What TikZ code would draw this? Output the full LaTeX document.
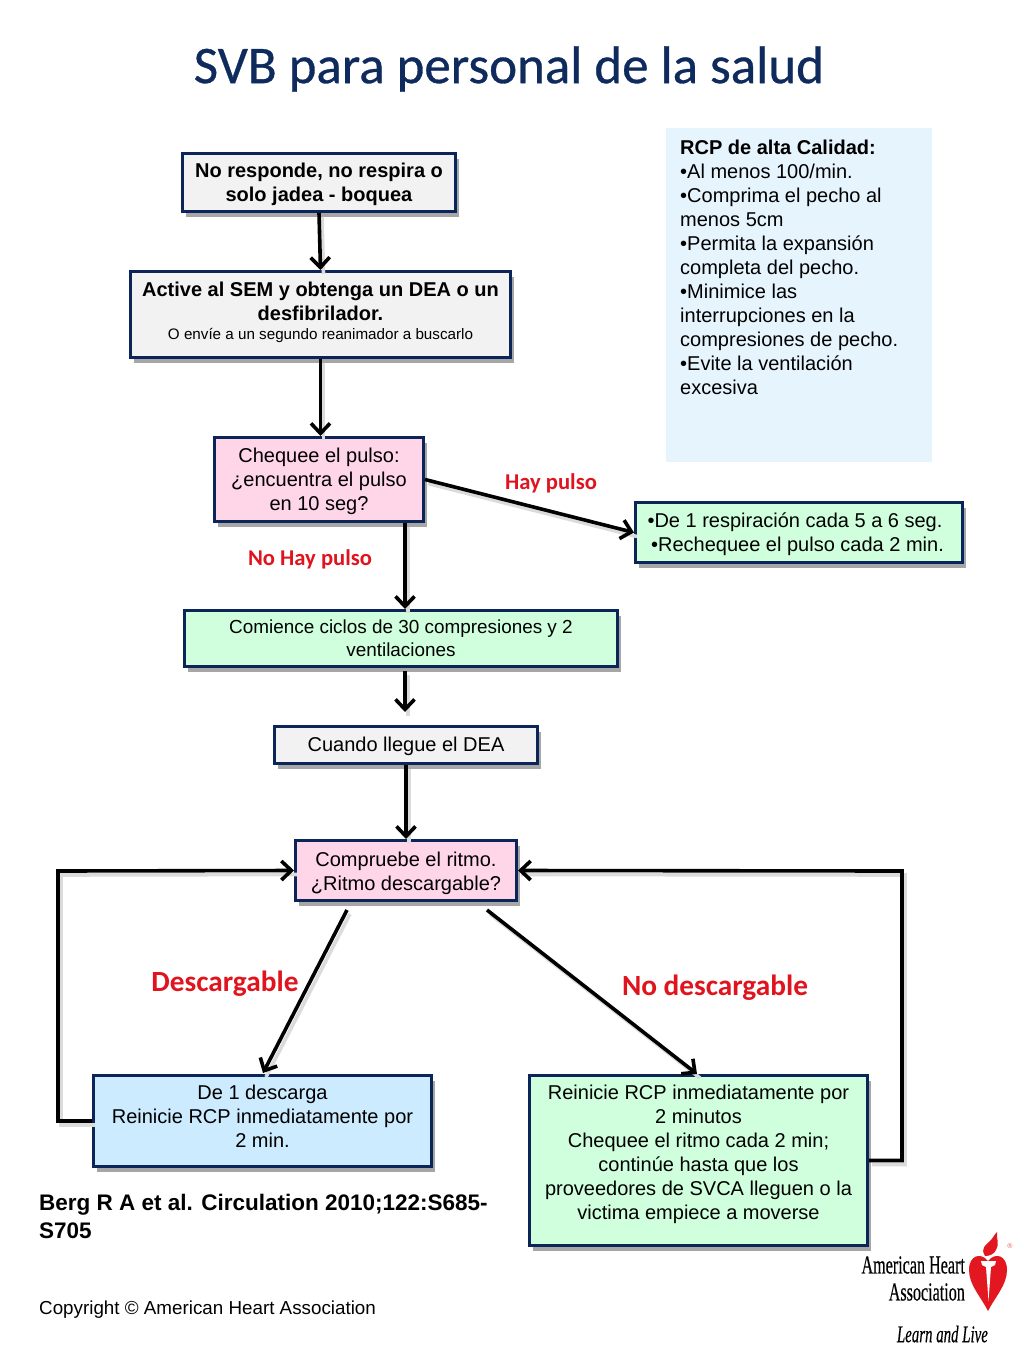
\documentclass[tikz,border=0pt]{standalone}
\usepackage{fontspec}
\setmainfont{Liberation Sans}
\newfontfamily\calibrifont{Carlito}
\newfontfamily\titlefont[FakeBold=0.6]{Carlito}
\newfontfamily\timesfont[FakeBold=0.5]{Liberation Serif}
\usetikzlibrary{arrows.meta,shadows}
\definecolor{navy}{HTML}{0B2559}
\definecolor{titlecol}{HTML}{0F2A5C}
\definecolor{graybox}{HTML}{F2F2F2}
\definecolor{pinkbox}{HTML}{FFD5E8}
\definecolor{greenbox}{HTML}{CFFFDD}
\definecolor{bluebox}{HTML}{CCEBFF}
\definecolor{infobox}{HTML}{E6F4FD}
\definecolor{redlabel}{HTML}{E0141E}
\definecolor{heartred}{HTML}{E3171F}
\newcommand\lowerit[1]{\rule{0pt}{#1}}
\tikzset{
  flowbox/.style={draw=navy,line width=3pt,align=center,inner sep=0pt,text=black,
    font=\fontsize{20}{24}\selectfont,
    drop shadow={shadow xshift=3pt,shadow yshift=-5pt,opacity=.35,fill=black}},
  conn/.style={line width=3.6pt,-{Straight Barb[length=10pt,width=19pt,line width=3.6pt]},line join=miter,
    preaction={draw=black!14,line width=3.6pt,-,transform canvas={xshift=3pt,yshift=-4pt}}},
  hayfont/.style={text=redlabel,font=\calibrifont\bfseries\fontsize{22.6}{26}\selectfont},
  bigred/.style={text=redlabel,font=\calibrifont\bfseries\fontsize{29.3}{36}\selectfont},
}
\begin{document}
\begin{tikzpicture}[x=1pt,y=-1pt]
\useasboundingbox[fill=white] (0,0) rectangle (1024,1365);
\node[text=titlecol,font=\titlefont\fontsize{53}{60}\selectfont] (title) at (509,69) {SVB para personal de la salud};
% info box
\node[fill=infobox,anchor=north west,minimum width=266pt,minimum height=334pt,inner sep=0pt] (info) at (666,128) {};
\node[anchor=north west,align=left,inner sep=0pt,font=\fontsize{20}{24}\selectfont] (infotext) at (680,139.5) {\textbf{RCP de alta Calidad:}\\
•Al menos 100/min.\\
•Comprima el pecho al\\
menos 5cm\\
•Permita la expansión\\
completa del pecho.\\
•Minimice las\\
interrupciones en la\\
compresiones de pecho.\\
•Evite la ventilación\\
excesiva};
% flow boxes
\node[flowbox,fill=graybox,minimum width=273pt,minimum height=58pt] (resp) at (319,182.5) {\lowerit{19pt}\textbf{No responde, no respira o}\\\textbf{solo jadea - boquea}};
\node[flowbox,fill=graybox,minimum width=380pt,minimum height=86pt,text depth=7pt] (sem) at (320.5,314.5) {\textbf{Active al SEM y obtenga un DEA o un}\\\textbf{desfibrilador.}\\[-5pt]{\fontsize{15.2}{18}\selectfont O envíe a un segundo reanimador a buscarlo}};
\node[flowbox,fill=pinkbox,minimum width=209pt,minimum height=84pt] (pulso) at (319,479.5) {\lowerit{19pt}Chequee el pulso:\\¿encuentra el pulso\\en 10 seg?};
\node[flowbox,fill=greenbox,minimum width=327pt,minimum height=60pt] (resc) at (799,532.5) {\lowerit{19pt}\hspace{-8pt}•De 1 respiración cada 5 a 6 seg.\\\hspace{-3pt}•Rechequee el pulso cada 2 min.};
\node[flowbox,fill=greenbox,minimum width=433pt,minimum height=56pt,font=\fontsize{18.9}{23}\selectfont] (ciclos) at (401,638.5) {Comience ciclos de 30 compresiones y 2\\ventilaciones};
\node[flowbox,fill=graybox,minimum width=263pt,minimum height=37pt] (dea) at (406,745) {\lowerit{17pt}Cuando llegue el DEA};
\node[flowbox,fill=pinkbox,minimum width=221pt,minimum height=60pt] (ritmo) at (406,870.5) {\lowerit{21pt}Compruebe el ritmo.\\¿Ritmo descargable?};
\node[flowbox,fill=bluebox,minimum width=338pt,minimum height=91pt,text depth=10pt] (desc) at (262.5,1121) {De 1 descarga\\Reinicie RCP inmediatamente por\\2 min.};
\node[flowbox,fill=greenbox,minimum width=338pt,minimum height=170pt,text depth=16pt] (rein) at (698.5,1160.5) {Reinicie RCP inmediatamente por\\2 minutos\\Chequee el ritmo cada 2 min;\\continúe hasta que los\\proveedores de SVCA lleguen o la\\victima empiece a moverse};
% labels
\node[hayfont] (haylab) at (551,483) {Hay pulso};
\node[hayfont] (nohaylab) at (310,559) {No Hay pulso};
\node[bigred] (desclab) at (225,984) {Descargable};
\node[bigred] (nodesclab) at (715,988) {No descargable};
\node[anchor=north west,align=left,inner sep=0pt,font=\bfseries\fontsize{22.5}{28}\selectfont] (ref) at (39,1194) {Berg R A et al. Circulation 2010;122:S685-\\S705};
\node[anchor=west,inner sep=0pt,font=\fontsize{18.8}{22}\selectfont] (copy) at (39,1310) {Copyright © American Heart Association};
% connectors
\coordinate (ritmoL) at (347,910);
\coordinate (ritmoR) at (487,910);
\coordinate (descT) at (263,1073);
\coordinate (reinT) at (697,1074);
\coordinate (ciclosB) at (405,671);
\coordinate (deaT) at (405,712);
\draw[conn] (resp.south) -- (sem.north);
\draw[conn] (sem.south) -- (sem.south |- pulso.north);
\draw[conn] (pulso.east) -- (resc.west);
\draw[conn] (pulso.south -| ciclosB) -- (ciclos.north -| ciclosB);
\draw[conn] (ciclosB) -- (deaT);
\draw[conn] (dea.south) -- (ritmo.north);
\draw[conn] (ritmoL) -- (descT);
\draw[conn] (ritmoR) -- (reinT);
\draw[conn] (desc.west) -- (58,1121) -- (58,871) -- (ritmo.west);
\draw[conn] (rein.east) -- (902,1160.5) -- (902,871) -- (ritmo.east);
% logo
\node[anchor=east,inner sep=0pt,xscale=.62,font=\timesfont\fontsize{26}{30}\selectfont] (aha1) at (965,1265) {American Heart};
\node[anchor=east,inner sep=0pt,xscale=.62,font=\timesfont\fontsize{26}{30}\selectfont] (aha2) at (965,1292) {Association};
\node[anchor=east,inner sep=0pt,xscale=.62,font=\timesfont\itshape\fontsize{24}{28}\selectfont] (aha3) at (988,1334) {Learn and Live};
\fill[heartred] (988,1261) .. controls (981,1252) and (969,1255) .. (969,1270) .. controls (969,1285) and (981,1297) .. (988,1311) .. controls (995,1297) and (1007,1285) .. (1007,1270) .. controls (1007,1255) and (995,1252) .. (988,1261) -- cycle;
\fill[heartred] (985,1256) .. controls (980,1248) and (986,1245) .. (990,1241) .. controls (993,1238) and (994,1235) .. (997,1232) .. controls (996,1238) and (1000,1244) .. (996,1250) .. controls (994,1254) and (990,1256) .. (985,1256) -- cycle;
\fill[white] (981,1261) -- (996,1261) -- (995,1265) -- (991,1267) -- (988.5,1301) -- (986,1267) -- (982,1265) -- cycle;
\node[inner sep=0pt,text=heartred!70,font=\fontsize{7}{8}\selectfont] (aharegd) at (1010,1246) {®};
\end{tikzpicture}
\end{document}
